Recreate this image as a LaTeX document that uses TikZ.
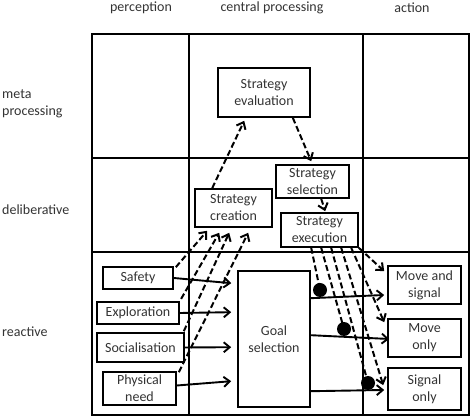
\documentclass[tikz,border=0pt]{standalone}
\usepackage{fontspec}
\setmainfont{Carlito}
\usetikzlibrary{arrows.meta,calc}
\begin{document}
\begin{tikzpicture}[x=1pt,y=-1pt,
  lbl/.style={font=\fontsize{14}{17}\selectfont, text=black!80, inner sep=0},
  box/.style={draw, line width=1.6pt, align=center, inner sep=0, font=\fontsize{14}{17}\selectfont, text=black!80},
  gridline/.style={line width=2.2pt},
  sarrow/.style={line width=1.9pt, -{Straight Barb[length=6pt,width=10pt]}},
  darrow/.style={line width=2pt, dash pattern=on 6pt off 3pt, -{Straight Barb[length=6pt,width=10pt]}},
  dline/.style={line width=2pt, dash pattern=on 6pt off 3pt},
  blob/.style={circle, fill=black, inner sep=0, minimum size=14pt}
]
\useasboundingbox (0,0) rectangle (474,419);
% grid
\draw[gridline] (92,34) rectangle (469,415);
\draw[gridline] (189,34) -- (189,415);
\draw[gridline] (363,34) -- (363,415);
\draw[gridline] (92,158) -- (469,158);
\draw[gridline] (92,252) -- (469,252);
% headers
\node[lbl] (hper) at (141,8) {perception};
\node[lbl] (hcen) at (272,8) {central processing};
\node[lbl] (hact) at (412,8) {action};
\node[lbl, anchor=west, align=left] (rmeta) at (2,104) {meta\\processing};
\node[lbl, anchor=west] (rdel) at (2,210) {deliberative};
\node[lbl, anchor=west] (rrea) at (2,332) {reactive};
% boxes
\node[box, minimum width=92pt, minimum height=49pt] (eval) at (264,92.5) {Strategy\\evaluation};
\node[box, minimum width=73pt, minimum height=33pt] (sel) at (312.5,181.5) {Strategy\\selection};
\node[box, minimum width=77pt, minimum height=38pt] (crea) at (233.5,208) {Strategy\\creation};
\node[box, minimum width=77pt, minimum height=34pt] (exec) at (319.5,230) {Strategy\\execution};
\node[box, minimum width=70pt, minimum height=22pt] (safety) at (138,278) {Safety};
\node[box, line width=2.2pt, minimum width=82pt, minimum height=22pt] (explor) at (138,313) {Exploration};
\node[box, minimum width=87pt, minimum height=29pt] (social) at (140.5,347.5) {Socialisation};
\node[box, minimum width=73pt, minimum height=33pt] (phys) at (139.5,388.5) {Physical\\need};
\node[box, minimum width=72pt, minimum height=136pt] (goal) at (274,339) {Goal\\selection};
\node[box, minimum width=73pt, minimum height=38pt] (mas) at (424.5,285) {Move and\\signal};
\node[box, minimum width=73pt, minimum height=38pt] (mo) at (424.5,338) {Move\\only};
\node[box, minimum width=73pt, minimum height=42pt] (so) at (424.5,389) {Signal\\only};
% dots
\node[blob] (d1) at (320,290) {};
\node[blob] (d2) at (344,329) {};
\node[blob] (d3) at (368,383) {};
% perception -> goal selection
\draw[sarrow] (safety.east) -- ($(goal.north west)+(-6,13)$);
\draw[sarrow] (explor.east) -- ($(goal.north west)+(-6,42)$);
\draw[sarrow] (social.east) -- ($(goal.north west)+(-6,77)$);
\draw[sarrow] ($(phys.east)+(0,-3)$) -- ($(goal.north west)+(-6,111)$);
% goal selection -> actions
\draw[sarrow] ($(goal.north east)+(0,28)$) -- ($(mas.west)+(-3,10)$);
\draw[sarrow] ($(goal.north east)+(0,65)$) -- ($(mo.west)+(2,1)$);
\draw[sarrow] ($(goal.north east)+(0,121)$) -- ($(so.west)+(-3,1)$);
% perception -> strategy creation
\draw[darrow] ($(safety.north east)+(2,1)$) -- ($(crea.south west)+(13,3)$);
\draw[darrow] ($(explor.north east)+(1,-2)$) -- ($(crea.south west)+(25,5)$);
\draw[darrow] ($(social.north east)+(-1,-1)$) -- ($(crea.south west)+(35,5)$);
\draw[darrow] ($(phys.north east)+(2,1)$) -- ($(crea.south west)+(54,5)$);
% deliberative chain
\draw[darrow] ($(crea.north west)+(18,0)$) -- ($(eval.south west)+(27,3)$);
\draw[darrow] ($(eval.south east)+(-18,0)$) -- ($(sel.north west)+(36,-3)$);
\draw[darrow] ($(sel.south west)+(46,0)$) -- ($(exec.north west)+(45,-1)$);
% execution -> dots and actions
\draw[dline] ($(exec.south west)+(31,0)$) -- (d1.center);
\draw[dline] ($(exec.south west)+(41,0)$) -- (d2.center);
\draw[dline] ($(exec.south west)+(51,0)$) -- (d3.center);
\draw[darrow] ($(exec.south west)+(61,0)$) -- ($(so.north west)+(-4,18)$);
\draw[darrow] ($(exec.south west)+(71,0)$) -- ($(mo.north west)+(-3,4)$);
\draw[darrow] (exec.south east) -- ($(mas.north west)+(-3,6)$);
\end{tikzpicture}
\end{document}
